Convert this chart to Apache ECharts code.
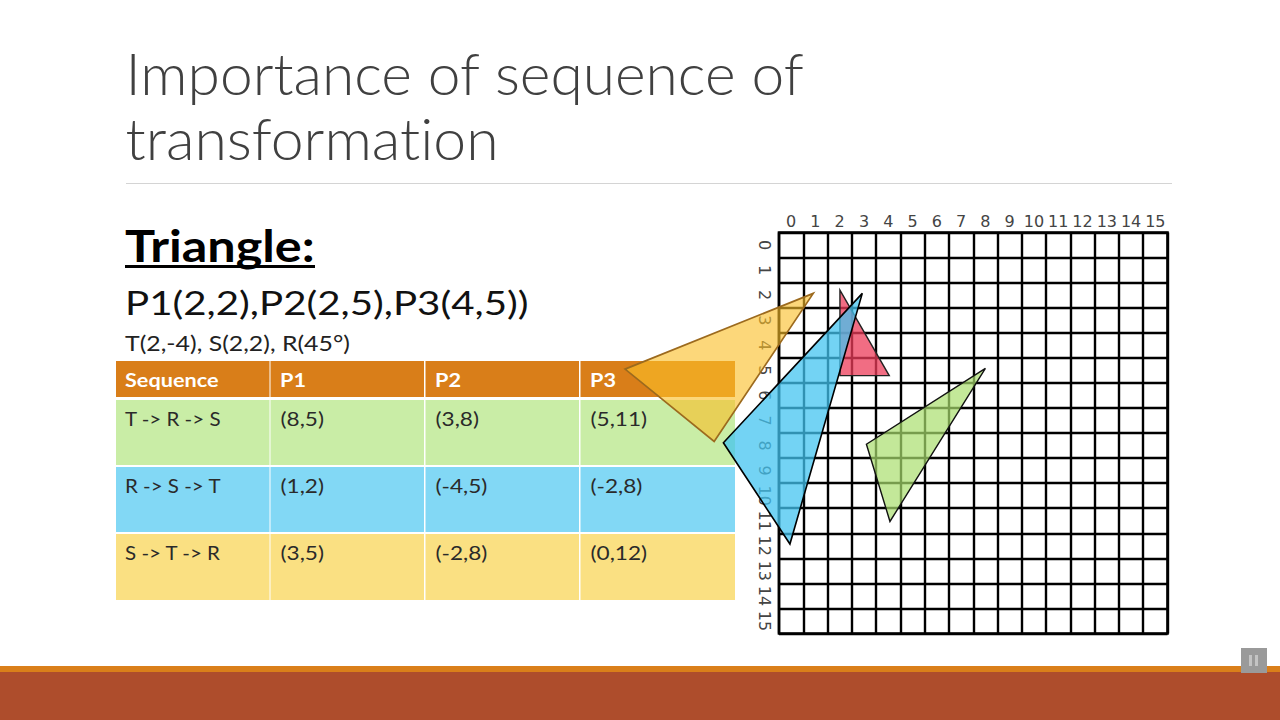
<!DOCTYPE html>
<html><head><meta charset="utf-8">
<style>html,body{margin:0;padding:0;background:#fff}#c{width:1280px;height:720px}svg text{font-variant-ligatures:none !important;font-feature-settings:"liga" 0,"clig" 0 !important}</style>
<script src="https://cdn.jsdelivr.net/npm/echarts@6/dist/echarts.min.js"></script>
</head><body><div id="c"></div>
<script>
const gridTicks = ['0','1','2','3','4','5','6','7','8','9','10','11','12','13','14','15'];
const tableHeader = ['Sequence','P1','P2','P3'];
const rowGreen = ['T -> R -> S','(8,5)','(3,8)','(5,11)'];
const rowBlue = ['R -> S -> T','(1,2)','(-4,5)','(-2,8)'];
const rowYellow = ['S -> T -> R','(3,5)','(-2,8)','(0,12)'];
const triRed = [[2.01,1.8],[2.01,5.21],[4.04,5.21]];
const triGreen = [[8.0,4.92],[3.1,7.95],[4.07,11.03]];
const triBlue = [[2.93,1.93],[-2.79,7.89],[-0.05,11.93]];
const triYellow = [[0.91,1.93],[-6.84,4.95],[-3.17,7.84]];

const chart = echarts.init(document.getElementById('c'), null, {renderer:'svg'});
const FONT = 'Lato, "Noto Sans", sans-serif';
const els = [];
function rect(x,y,w,h,fill,extra){els.push(Object.assign({type:'rect',z:-1,silent:true,shape:{x,y,width:w,height:h},style:{fill}},extra||{}));}
function text(x,y,t,font,fill,sx){els.push({type:'text',z:-1,silent:true,x,y,scaleX:sx||1,style:{text:t,font:font+' '+FONT,fill,verticalAlign:'middle',textAlign:'left'}});}

text(125.5,72.5,'Importance of sequence of','300 58px','#404040',1.012);
text(125.5,137,'transformation','300 58px','#404040',1.016);
rect(126,183,1046,1,'#d4d4d4');
text(125,245,'Triangle:','bold 44px','#000',1.145);
rect(125,265,190,3,'#000');
text(125,302,'P1(2,2),P2(2,5),P3(4,5))','33px','#111',1.22);
text(125,343,'T(2,-4), S(2,2), R(45°)','22px','#222',1.13);

const colX=[116,270.5,425.5,580.5], colW=[153.5,153.5,153.5,154.5];
const rows=[{d:rowGreen,y:400,h:65,c:'#C9EDA6'},{d:rowBlue,y:467,h:65,c:'#82D8F5'},{d:rowYellow,y:534,h:66,c:'#FAE082'}];
tableHeader.forEach((t,i)=>{rect(colX[i],361,colW[i],36,'#D97E19');text(colX[i]+(i?9.5:9),379.5,t,'bold 19px','#fff',1.14);});
rows.forEach(r=>r.d.forEach((t,i)=>{rect(colX[i],r.y,colW[i],r.h,r.c);text(colX[i]+(i?10:9),r.y+18.5,t,'19px','#2a2a2a',i===0?1.08:1.19);}));
rect(0,666,1280,6,'#DA7F1A');
rect(0,672,1280,48,'#AE4D2C');
rect(1241,648,26,25,'#9a9a9a',{z:5});
rect(1249,655,3,11,'#c4c4c4',{z:6});
rect(1255,655,3,11,'#c4c4c4',{z:6});
els.push({type:'rect',z:-2,silent:true,shape:{x:0,y:0,width:1280,height:720},style:{fill:'#fff'}});

function tri(name,pts,fill,stroke,lw){
  return {type:'custom',name,xAxisIndex:1,yAxisIndex:1,coordinateSystem:'cartesian2d',z:3,silent:true,clip:false,
    data:[pts.flat()],
    encode:{x:[0,2,4],y:[1,3,5]},
    renderItem(params,api){
      const p=[0,2,4].map(i=>api.coord([api.value(i),api.value(i+1)]));
      return {type:'polygon',shape:{points:p},style:{fill,stroke,lineWidth:lw,lineJoin:'miter'}};
    }};
}
const axisStyle={color:'#444',fontSize:16,fontFamily:'"DejaVu Sans"',interval:0};
const grid={left:779,top:232.5,width:388.5,height:401,show:true,borderColor:'#000',borderWidth:2.6,backgroundColor:'transparent'};
const line={show:true,interval:0,lineStyle:{color:'#000',width:2.4}};
chart.setOption({
  animation:false,
  graphic:{elements:els},
  grid,
  tooltip:{show:false},
  xAxis:[
    {type:'category',position:'top',data:gridTicks,axisTick:{show:false},axisLine:{show:false},splitLine:line,axisLabel:Object.assign({margin:3},axisStyle)},
    {type:'value',min:-0.5,max:15.5,show:false}
  ],
  yAxis:[
    {type:'category',inverse:true,data:gridTicks,axisTick:{show:false},axisLine:{show:false},splitLine:line,axisLabel:Object.assign({margin:7,rotate:-90},axisStyle)},
    {type:'value',inverse:true,min:-0.5,max:15.5,show:false}
  ],
  series:[
    tri('red',triRed,'rgba(236,60,90,0.75)','#222',1.4),
    tri('green',triGreen,'rgba(170,222,110,0.7)','#111',1.4),
    tri('blue',triBlue,'rgba(66,196,240,0.74)','#000',1.6),
    tri('yellow',triYellow,'rgba(250,190,40,0.62)','#9c6a1e',1.7)
  ]
});
</script></body></html>
